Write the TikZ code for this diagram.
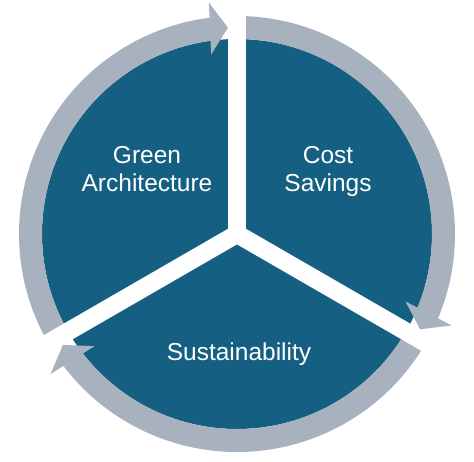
\documentclass[tikz,border=0pt]{standalone}
\usepackage{fontspec}
\setmainfont{Liberation Sans}
\usetikzlibrary{calc}
\definecolor{cdark}{RGB}{21,96,130}
\definecolor{cring}{RGB}{168,178,190}
\begin{document}
\begin{tikzpicture}[x=1pt,y=1pt,
  lbl/.style={text=white, font=\fontsize{24.5}{28}\selectfont, inner sep=0pt, anchor=base},
  ringarc/.style={draw=cring, line width=23pt},
  gapstrip/.style={draw=white, line width=18pt},
  arrowtip/.style={fill=cring}]
\useasboundingbox (0,0) rectangle (474,-462);
\coordinate (C) at (237,-234);
\fill[cdark] (C) circle[radius=195];
\foreach \g in {210,90,-30} {
  \pgfmathsetmacro\t{\g-120+2.5}
  \pgfmathsetmacro\e{\t+4}
  \draw[ringarc] ($(C)+(\g:206.5)$) arc[start angle=\g, end angle=\e, radius=206.5];
}
\foreach \g in {90,-30,210} {
  \draw[gapstrip] (C) -- ($(C)+(\g:250)$);
}
\foreach \g in {210,90,-30} {
  \pgfmathsetmacro\t{\g-120+2.5}
  \pgfmathsetmacro\p{\t+90}
  \fill[arrowtip] ($(C)+(\t:206.5)$) -- ($(C)+(\t:232.5)+(\p:18)$) -- ($(C)+(\t:180.5)+(\p:18)$) -- cycle;
}
\node[lbl] (g1) at (147,-164) {Green};
\node[lbl] (g2) at (147,-192) {Architecture};
\node[lbl] (c1) at (328,-164) {Cost};
\node[lbl] (c2) at (328,-192) {Savings};
\node[lbl] (s1) at (239,-360) {Sustainability};
\end{tikzpicture}
\end{document}
